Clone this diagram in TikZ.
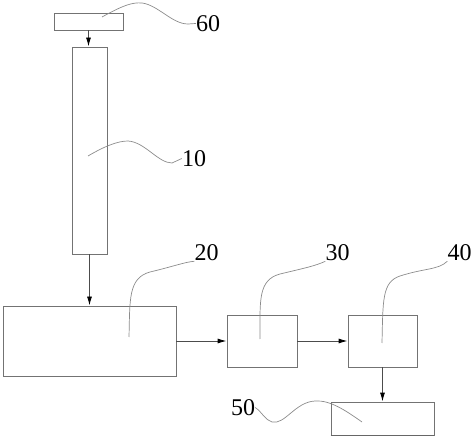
\documentclass[tikz,border=0pt]{standalone}
\usepackage{fontspec}
\setmainfont{Liberation Serif}
\usetikzlibrary{arrows.meta}
\begin{document}
\begin{tikzpicture}[x=1pt,y=-1pt,
  blk/.style={draw=black!55,line width=0.9pt,inner sep=0pt,fill=white},
  arr/.style={draw=black!70,line width=0.9pt,-{Latex[length=9pt,width=5pt,black]}},
  lead/.style={draw=black!45,line width=0.7pt},
  lbl/.style={inner sep=0pt,anchor=center,font=\fontsize{24}{24}\selectfont}]
\useasboundingbox (0,0) rectangle (474,438);
% boxes
\node[blk,minimum width=69pt,minimum height=17pt] (b60) at (88.5,21.5) {};
\node[blk,minimum width=35pt,minimum height=207pt] (b10) at (89.5,150.5) {};
\node[blk,minimum width=173pt,minimum height=70pt] (b20) at (89.5,341) {};
\node[blk,minimum width=70pt,minimum height=52pt] (b30) at (262,341) {};
\node[blk,minimum width=69pt,minimum height=52pt] (b40) at (382.5,341) {};
\node[blk,minimum width=103pt,minimum height=33pt] (b50) at (382.5,418.5) {};
\draw[black!60,line width=1.6pt] (b50.south west) -- (b50.south east);
% arrows
\draw[arr] (b60.south) -- (b60.south |- b10.north);
\draw[arr] (b10.south) -- (b10.south |- b20.north);
\draw[arr] (b20.east) -- (b30.west);
\draw[arr] (b30.east) -- (b40.west);
\draw[arr] (b40.south) -- (b50.north);
% labels
\node[lbl] (l60) at (208,23.5) {60};
\node[lbl] (l10) at (194,158.5) {10};
\node[lbl] (l20) at (206.5,253) {20};
\node[lbl] (l30) at (337.5,253) {30};
\node[lbl] (l40) at (459.5,253) {40};
\node[lbl] (l50) at (243,407.5) {50};
% leader lines
\draw[lead] (102,17) .. controls (122,6) and (132,2) .. (142,3) .. controls (158,5) and (172,24) .. (188,24) -- (l60.west);
\draw[lead] (88,156) .. controls (105,146) and (118,141) .. (128,141) .. controls (145,142) and (158,163) .. (172,163) -- (l10.west);
\draw[lead] (129,337) .. controls (130,300) and (128,278) .. (150,272) .. controls (175,266) and (185,262) .. (l20.south west);
\draw[lead] (260,339) .. controls (260,300) and (258,280) .. (280,274) .. controls (305,268) and (315,266) .. (l30.south west);
\draw[lead] (382,343) .. controls (383,300) and (382,282) .. (400,276) .. controls (425,268) and (438,270) .. (l40.south west);
\draw[lead] (362,422) .. controls (345,410) and (330,400) .. (315,401) .. controls (295,402) and (285,425) .. (272,422) .. controls (265,420) and (262,412) .. (l50.east);
\end{tikzpicture}
\end{document}
